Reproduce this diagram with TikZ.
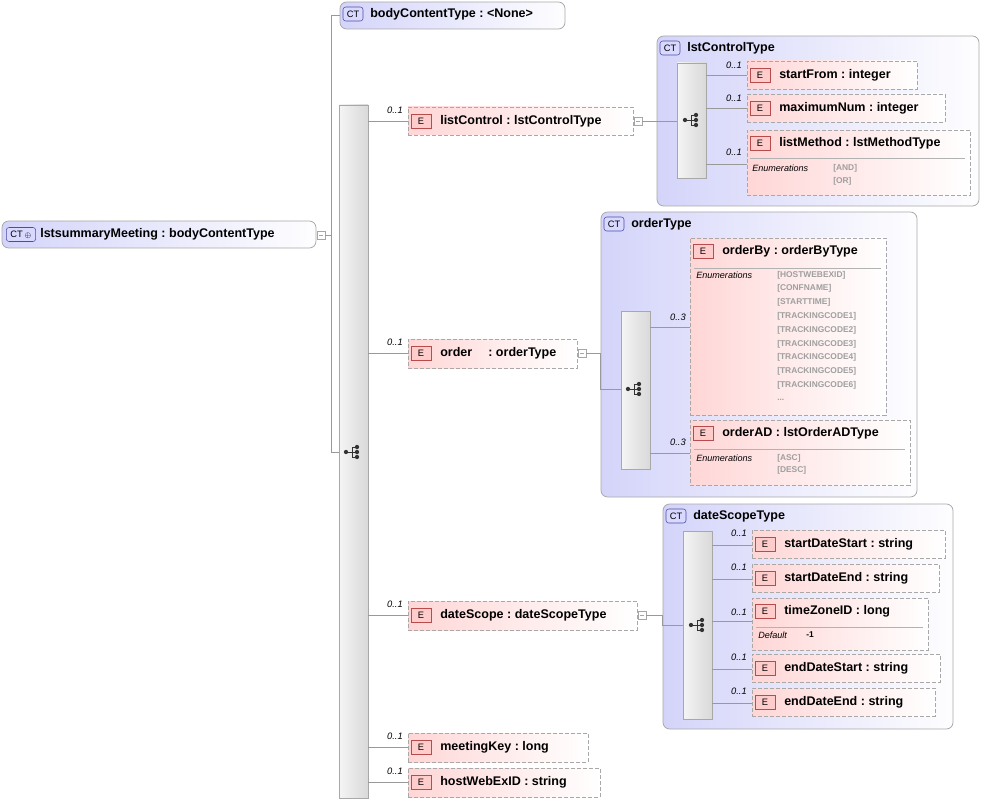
\documentclass[tikz,border=0pt]{standalone}
\usepackage{fontspec}
\setmainfont{Liberation Sans}
\usetikzlibrary{fit}
\definecolor{pinkL}{HTML}{FFD6D6}
\definecolor{blueL}{HTML}{D4D4FA}
\definecolor{bord}{HTML}{A8A8A8}
\tikzset{
 elem/.style={draw=bord,dashed,dash pattern=on 3pt off 1.5pt,left color=pinkL,right color=white,inner sep=0pt,line width=0.6pt},
 ctbox/.style={draw=bord,rounded corners=5pt,left color=blueL,right color=white!97!blueL,inner sep=0pt,line width=0.6pt},
 seqbar/.style={draw=bord,left color=gray!8,right color=gray!30,inner sep=0pt,line width=0.5pt},
 conn/.style={draw=gray!80,line width=0.5pt},
 lbl/.style={font=\bfseries\fontsize{9.4}{11}\selectfont,anchor=west,inner sep=0pt},
 mult/.style={font=\itshape\fontsize{7}{8}\selectfont,anchor=south east,inner sep=0pt},
 enl/.style={font=\itshape\fontsize{6.8}{8}\selectfont,anchor=west,inner sep=0pt},
 env/.style={font=\bfseries\fontsize{6.3}{7}\selectfont,text=gray!75,anchor=west,inner sep=0pt},
 eicon/.style={draw=red!60!black!70,fill=red!20,minimum width=15pt,minimum height=10.5pt,inner sep=0pt,font=\fontsize{7}{7}\selectfont},
 cticon/.style={draw=blue!50!black!70,fill=blue!15,rounded corners=2pt,minimum width=15pt,minimum height=10.5pt,inner sep=0pt,font=\fontsize{7}{7}\selectfont},
}
\newcommand{\sep}{\ :\ }
% \ebox{name}{x1}{y1}{x2}{y2}{headerY}{label}
\newcommand{\ebox}[7]{%
 \node[elem,fit={(#2,#3)(#4,#5)}] (#1) {};
 \node[eicon] (#1i) at (#2+13,#6) {E};
 \node[lbl] (#1t) at (#2+32,#6) {#7};}
\newcommand{\minusbox}[3]{% name x y(center)
 \node[draw=gray!70,fill=white,minimum size=6pt,inner sep=0pt] (#1) at (#2,#3) {};
 \draw[gray!70,line width=0.4pt] (#2-2,#3) -- (#2+2,#3);}
\newcommand{\seqicon}[3]{% name cx cy
 \coordinate (#1) at (#2,#3);
 \fill[gray!40!black] (#2-7,#3) circle (1.6pt) (#2+4,#3-5) circle (1.6pt) (#2+4,#3) circle (1.6pt) (#2+4,#3+5) circle (1.6pt);
 \draw[gray!40!black,line width=0.6pt] (#2-7,#3) -- (#2-1,#3) (#2-1,#3-5) -- (#2-1,#3+5) (#2-1,#3-5) -- (#2+4,#3-5) (#2-1,#3+5) -- (#2+4,#3+5) (#2-1,#3) -- (#2+4,#3);}
\newcommand{\ctbx}[6]{% name x1 y1 x2 y2 label
 \node[ctbox,fit={(#2,#3)(#4,#5)}] (#1) {};
 \node[cticon] (#1i) at (#2+13,#3+12) {CT};
 \node[lbl] (#1t) at (#2+30,#3+12) {#6};}
\begin{document}
\begin{tikzpicture}[x=0.75pt,y=-0.75pt]
\useasboundingbox (0,0) rectangle (985,802);
% root
\node[ctbox,fit={(2,221)(316,248)}] (root) {};
\node[cticon,minimum width=22pt] (rooti) at (21,234.5) {CT\,$\scriptscriptstyle\oplus$};
\node[lbl] (roott) at (40,234.5) {lstsummaryMeeting\sep bodyContentType};
\minusbox{rootm}{321}{235}
% bodyContentType
\ctbx{bct}{340}{2}{565}{29}{bodyContentType\sep <None>}
% main sequence
\node[seqbar,fit={(339,105)(368,798)}] (seq) {};
\seqicon{seqi}{353}{452}
\coordinate (j) at (331,235);
\draw[conn] (rootm.east) -- (j) (331,15) -- (331,452);
\draw[conn] (331,15) -- (bct.west |- 0,15);
\draw[conn] (331,452) -- (seq.west |- 0,452);
% listControl
\ebox{lc}{408}{107}{633}{135}{121}{listControl\sep lstControlType}
\minusbox{lcm}{638}{121}
\draw[conn] (seq.east |- 0,121) -- (lc.west |- 0,121);
\node[mult] at (403,114) {0..1};
\ctbx{lct}{657}{36}{979}{206}{lstControlType}
\node[seqbar,fit={(677,63)(706,178)}] (seq2) {};
\seqicon{seq2i}{692}{120}
\draw[conn] (lcm.east) -- (seq2.west |- 0,121);
\ebox{sf}{747}{61}{917}{89}{75}{startFrom\sep integer}
\ebox{mn}{747}{94}{945}{122}{108}{maximumNum\sep integer}
\ebox{lm}{747}{130}{970}{195}{143}{listMethod\sep lstMethodType}
\draw[gray!60] (750,158) -- (965,158);
\node[enl] at (752,168) {Enumerations};
\node[env] at (833,168) {[AND]};
\node[env] at (833,181) {[OR]};
\draw[conn] (seq2.east |- 0,75) -- (sf.west |- 0,75);
\draw[conn] (seq2.east |- 0,108) -- (mn.west |- 0,108);
\draw[conn] (seq2.east |- 0,164) -- (lm.west |- 0,164);
\node[mult] at (742,69) {0..1};
\node[mult] at (742,102) {0..1};
\node[mult] at (742,156) {0..1};
% order
\ebox{or}{408}{339}{577}{368}{353}{order\quad\sep orderType}
\minusbox{orm}{582}{353}
\draw[conn] (seq.east |- 0,353) -- (or.west |- 0,353);
\node[mult] at (403,346) {0..1};
\ctbx{ot}{601}{212}{917}{497}{orderType}
\node[seqbar,fit={(621,311)(650,469)}] (seq3) {};
\seqicon{seq3i}{635}{389}
\draw[conn] (orm.east) -- (600,353) -- (600,389) -- (seq3.west |- 0,389);
\ebox{ob}{690}{238}{886}{415}{251}{orderBy\sep orderByType}
\draw[gray!60] (694,268) -- (881,268);
\node[enl] at (696,275) {Enumerations};
\foreach \v [count=\i from 0] in {HOSTWEBEXID,CONFNAME,STARTTIME,TRACKINGCODE1,TRACKINGCODE2,TRACKINGCODE3,TRACKINGCODE4,TRACKINGCODE5,TRACKINGCODE6}
  \node[env] at (777,275+13.8*\i) {[\v]};
\node[env] at (777,400) {...};
\ebox{oad}{690}{420}{910}{485}{433}{orderAD\sep lstOrderADType}
\draw[gray!60] (694,449) -- (905,449);
\node[enl] at (696,458) {Enumerations};
\node[env] at (777,458) {[ASC]};
\node[env] at (777,470) {[DESC]};
\draw[conn] (seq3.east |- 0,327) -- (ob.west |- 0,327);
\draw[conn] (seq3.east |- 0,453) -- (oad.west |- 0,453);
\node[mult] at (686,321) {0..3};
\node[mult] at (686,446) {0..3};
% dateScope
\ebox{ds}{408}{601}{637}{630}{615}{dateScope\sep dateScopeType}
\minusbox{dsm}{642}{615}
\draw[conn] (seq.east |- 0,615) -- (ds.west |- 0,615);
\node[mult] at (403,608) {0..1};
\ctbx{dst}{663}{504}{953}{729}{dateScopeType}
\node[seqbar,fit={(683,531)(712,719)}] (seq4) {};
\seqicon{seq4i}{698}{625}
\draw[conn] (dsm.east) -- (662,615) -- (662,625) -- (seq4.west |- 0,625);
\ebox{sds}{752}{530}{945}{558}{544}{startDateStart\sep string}
\ebox{sde}{752}{564}{939}{592}{578}{startDateEnd\sep string}
\ebox{tz}{752}{598}{928}{650}{611}{timeZoneID\sep long}
\draw[gray!60] (756,627) -- (923,627);
\node[enl] at (758,635) {Default};
\node[env,text=black] at (806,635) {-1};
\ebox{eds}{752}{654}{940}{682}{668}{endDateStart\sep string}
\ebox{ede}{752}{688}{935}{716}{702}{endDateEnd\sep string}
\draw[conn] (seq4.east |- 0,545) -- (sds.west |- 0,545);
\draw[conn] (seq4.east |- 0,579) -- (sde.west |- 0,579);
\draw[conn] (seq4.east |- 0,621) -- (tz.west |- 0,621);
\draw[conn] (seq4.east |- 0,669) -- (eds.west |- 0,669);
\draw[conn] (seq4.east |- 0,703) -- (ede.west |- 0,703);
\node[mult] at (747,537) {0..1};
\node[mult] at (747,571) {0..1};
\node[mult] at (747,616) {0..1};
\node[mult] at (747,661) {0..1};
\node[mult] at (747,695) {0..1};
% meetingKey, hostWebExID
\ebox{mk}{408}{733}{588}{762}{747}{meetingKey\sep long}
\ebox{hw}{408}{768}{600}{797}{782}{hostWebExID\sep string}
\draw[conn] (seq.east |- 0,747) -- (mk.west |- 0,747);
\draw[conn] (seq.east |- 0,782) -- (hw.west |- 0,782);
\node[mult] at (403,740) {0..1};
\node[mult] at (403,775) {0..1};
\end{tikzpicture}
\end{document}
